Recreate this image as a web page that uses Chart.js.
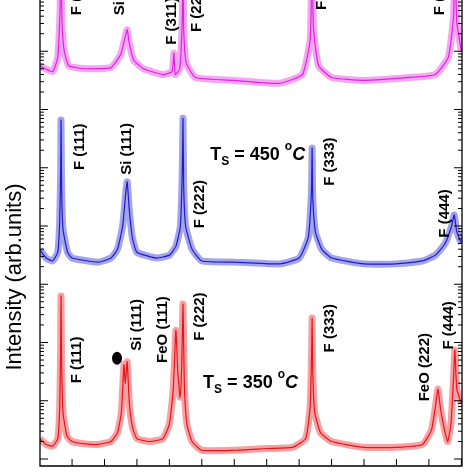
<!DOCTYPE html>
<html>
<head>
<meta charset="utf-8">
<script src="https://cdn.jsdelivr.net/npm/chart.js@4"></script>
<style>
  html, body { margin: 0; padding: 0; background: #fff; }
  #wrap { width: 474px; height: 474px; }
</style>
</head>
<body>
<div id="wrap"><canvas id="xrd" width="474" height="474"></canvas></div>
<script>
// 2-theta (deg) and log10 intensity (offset per trace)
const redX = [15,16,17,17.8,18.1,18.25,18.3,18.4,18.6,19.2,20,22,24,26,27,27.6,28.0,28.2,28.5,28.8,29.3,30,32,34,35,35.6,36.0,36.3,36.65,36.9,37.1,37.3,37.7,38.5,40,45,50,54,56,56.7,56.95,57.0,57.1,57.4,58.3,60,65,70,74,75.4,76.0,76.4,76.8,77.5,77.9,78.4,78.8,79.0,79.3,80];
const redY = [0.35,0.25,0.22,0.35,0.9,2.0,2.8,1.6,0.8,0.4,0.3,0.26,0.25,0.3,0.45,0.8,1.62,1.3,1.67,1.0,0.55,0.35,0.3,0.35,0.6,1.2,2.21,1.5,1.06,1.6,2.66,1.3,0.6,0.3,0.15,0.15,0.18,0.2,0.35,0.9,2.0,2.42,1.5,0.8,0.45,0.3,0.2,0.2,0.25,0.5,0.9,1.2,0.85,0.45,0.3,0.6,1.4,1.87,1.2,0.95];

const blueX = [15,16,17,17.8,18.1,18.25,18.3,18.4,18.6,19.3,20,24,26,27,27.8,28.3,28.5,28.8,29.3,30,33,35,36,36.7,37.0,37.1,37.2,37.5,38.5,40,45,52,55,56.4,56.9,57.0,57.1,57.5,58.5,60,65,70,74,76,77.5,78.5,78.9,79.3,80];
const blueY = [3.6,3.45,3.4,3.55,4.1,5.0,5.82,4.6,3.95,3.55,3.45,3.38,3.45,3.6,4.0,4.6,4.76,4.3,3.8,3.55,3.45,3.5,3.65,4.0,5.0,5.85,4.7,4.0,3.6,3.4,3.38,3.35,3.45,3.8,4.6,5.34,4.5,3.9,3.6,3.45,3.35,3.35,3.4,3.5,3.7,4.0,4.19,3.9,3.7];

const magX = [15,17,17.8,18.15,18.3,18.45,18.8,19.5,22,26,27.5,28.2,28.5,28.8,29.5,31,34,35.4,35.7,35.9,36.6,37.0,37.1,37.2,37.6,39,45,52,55.5,56.7,57.0,57.2,58,60,65,72,76,78,78.8,79.0,79.3,80];
const magY = [6.75,6.65,6.9,7.7,8.6,7.5,7.0,6.75,6.7,6.72,6.95,7.25,7.37,7.15,6.85,6.7,6.6,6.65,6.97,6.6,6.7,7.6,8.6,7.4,6.8,6.55,6.5,6.45,6.6,7.2,8.6,7.4,6.75,6.55,6.5,6.55,6.6,6.9,7.6,8.6,7.5,7.0];

// peak labels: text, 2-theta, bottom end of rotated text (log units)
const peakText = ['F (111)','Si (111)','FeO (111)','F (222)','F (333)','FeO (222)','F (444)',
                  'F (111)','Si (111)','F (222)','F (333)','F (444)',
                  'F (111)','Si (111)','F (311)','F (222)','F (333)','F (444)'];
const peakX = [20.8,30.0,34.0,39.7,59.8,74.4,78.0,
               21.2,28.5,39.7,59.8,77.5,
               20.8,27.4,35.4,39.3,58.5,76.7];
const peakBottom = [1.30,1.86,1.65,2.03,1.83,0.99,1.88,
                    4.96,4.88,3.96,4.69,3.80,
                    7.62,7.62,7.11,7.33,7.71,7.62];

const tempText = ['350', '450'];
const tempX = [40.2, 41.3];
const tempY = [1.22, 5.13];

const dotX = [26.93];
const dotY = [1.73];

const toPts = (xs, ys) => xs.map((x, i) => ({ x: x, y: ys[i] }));

const RED = '#e8141a', BLUE = '#1c1ccc', MAG = '#e022e0';

function traceSets(xs, ys, col) {
  return [
    { data: toPts(xs, ys), borderColor: col + '66', borderWidth: 7, pointRadius: 0, tension: 0.15 },
    { data: toPts(xs, ys), borderColor: col, borderWidth: 1.2, pointRadius: 0, tension: 0.15 }
  ];
}

const decoPlugin = {
  id: 'deco',
  afterDatasetsDraw(chart) {
    const { ctx, chartArea: a, scales: { x, y } } = chart;
    ctx.save();
    ctx.strokeStyle = '#000';
    ctx.lineWidth = 1.3;
    ctx.beginPath();
    ctx.moveTo(a.left, a.top); ctx.lineTo(a.left, a.bottom);
    ctx.lineTo(a.right, a.bottom); ctx.lineTo(a.right, a.top);
    ctx.stroke();
    ctx.lineWidth = 1;
    ctx.beginPath();
    // x ticks
    for (let t = 20; t <= 80; t += 5) {
      const px = x.getPixelForValue(t);
      ctx.moveTo(px, a.bottom); ctx.lineTo(px, a.bottom - 7);
    }
    // log y ticks, both sides
    for (let d = 0; d < 9; d++) {
      for (let m = 1; m <= 9; m++) {
        const v = d + Math.log10(m);
        if (v < y.min || v > y.max) continue;
        const py = y.getPixelForValue(v);
        const len = m === 1 ? 8 : 4;
        ctx.moveTo(a.left, py); ctx.lineTo(a.left + len, py);
        ctx.moveTo(a.right, py); ctx.lineTo(a.right - len, py);
      }
    }
    ctx.stroke();

    // dot
    ctx.fillStyle = '#000';
    ctx.beginPath();
    ctx.ellipse(x.getPixelForValue(dotX[0]), y.getPixelForValue(dotY[0]), 5, 6.5, 0, 0, Math.PI * 2);
    ctx.fill();

    // peak labels
    ctx.font = 'bold 15px "Liberation Sans", Arial, sans-serif';
    ctx.textBaseline = 'middle';
    ctx.textAlign = 'left';
    peakText.forEach((t, i) => {
      ctx.save();
      ctx.translate(x.getPixelForValue(peakX[i]), y.getPixelForValue(peakBottom[i]));
      ctx.rotate(-Math.PI / 2);
      ctx.fillText(t, 0, 0);
      ctx.restore();
    });

    // temperature labels
    tempText.forEach((t, i) => {
      let px = x.getPixelForValue(tempX[i]);
      const py = y.getPixelForValue(tempY[i]);
      ctx.textBaseline = 'alphabetic';
      ctx.font = 'bold 18px "Liberation Sans", Arial, sans-serif';
      ctx.fillText('T', px, py); px += ctx.measureText('T').width;
      ctx.font = 'bold 12px "Liberation Sans", Arial, sans-serif';
      ctx.fillText('S', px, py + 5); px += ctx.measureText('S').width;
      ctx.font = 'bold 18px "Liberation Sans", Arial, sans-serif';
      const mid = ' = ' + t + ' ';
      ctx.fillText(mid, px, py); px += ctx.measureText(mid).width;
      ctx.font = 'bold 12px "Liberation Sans", Arial, sans-serif';
      ctx.fillText('o', px, py - 10); px += ctx.measureText('o').width;
      ctx.font = 'bold italic 18px "Liberation Sans", Arial, sans-serif';
      ctx.fillText('C', px, py);
    });

    // axis title
    ctx.font = '22px "Liberation Sans", Arial, sans-serif';
    ctx.textAlign = 'center';
    ctx.textBaseline = 'middle';
    ctx.translate(15, 277);
    ctx.rotate(-Math.PI / 2);
    ctx.fillText('Intensity (arb.units)', 0, 0);
    ctx.restore();
  }
};

new Chart(document.getElementById('xrd'), {
  type: 'line',
  data: {
    datasets: [
      ...traceSets(redX, redY, RED),
      ...traceSets(blueX, blueY, BLUE),
      ...traceSets(magX, magY, MAG)
    ]
  },
  options: {
    responsive: false,
    animation: false,
    devicePixelRatio: 1,
    layout: { padding: { left: 40, right: 12, top: 0, bottom: 8 } },
    plugins: { legend: { display: false }, tooltip: { enabled: false } },
    scales: {
      x: { type: 'linear', min: 15.06, max: 80.1, display: false },
      y: { type: 'linear', min: -0.12, max: 7.88, display: false }
    }
  },
  plugins: [decoPlugin]
});
</script>
</body>
</html>
